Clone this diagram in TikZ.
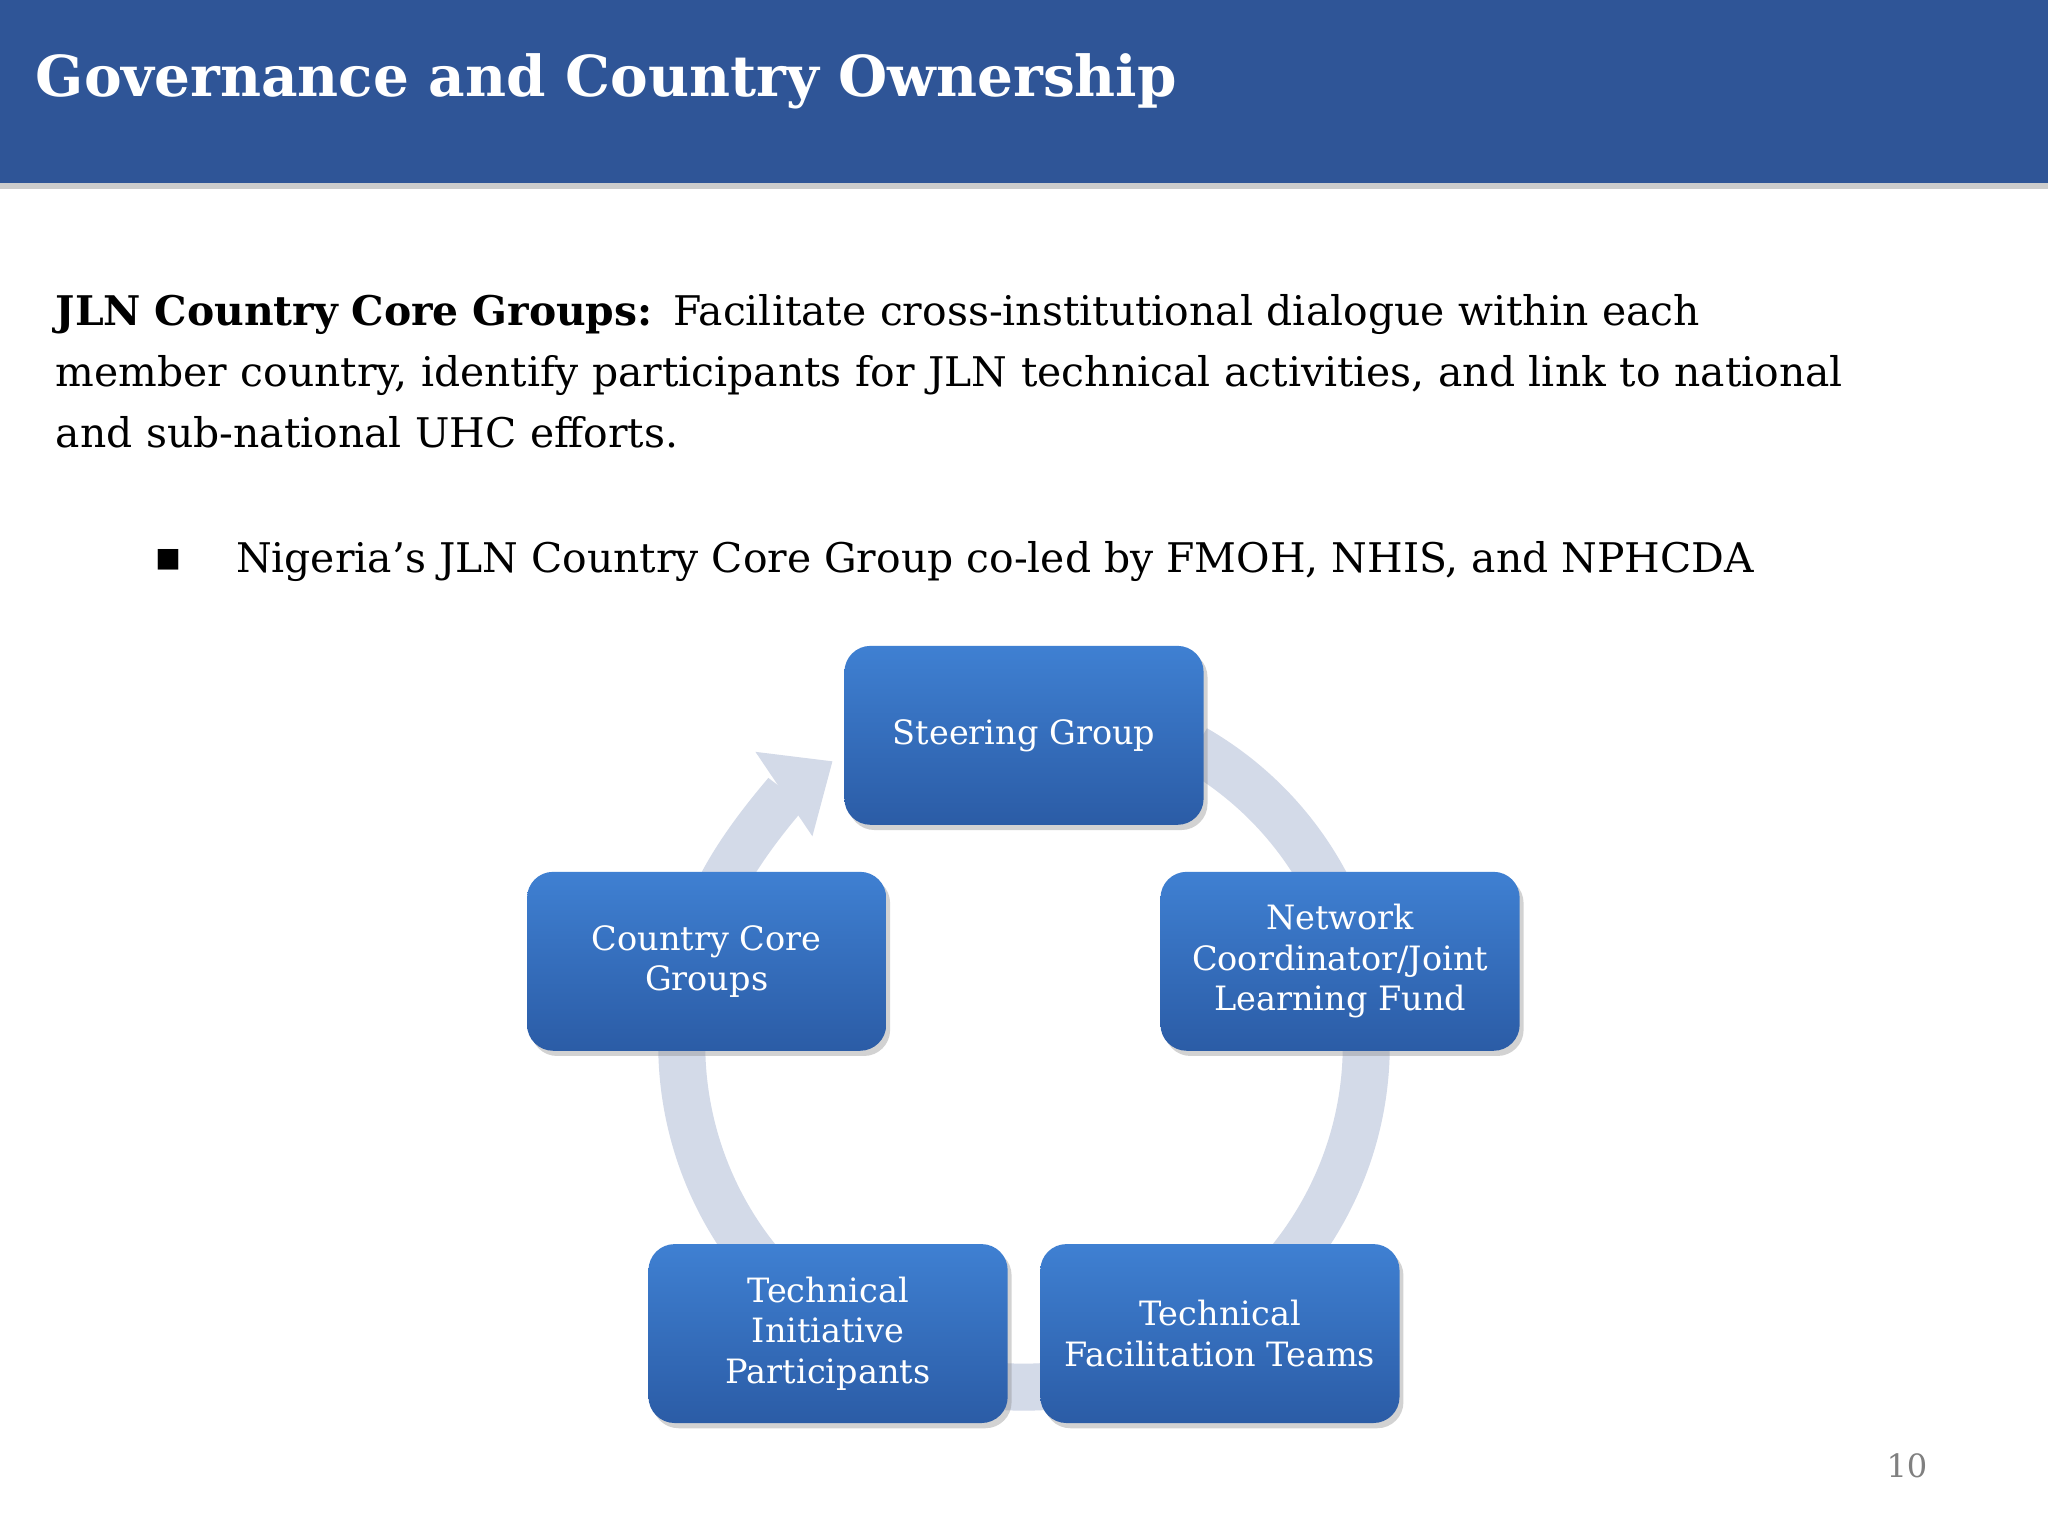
\documentclass[tikz,border=0pt]{standalone}
\usepackage{fontspec}
\setmainfont{DejaVu Serif}
\usetikzlibrary{arrows.meta,shadows}
\definecolor{hdr}{HTML}{2F5597}
\definecolor{boxtop}{HTML}{3F80D2}
\definecolor{boxbot}{HTML}{2B5CA6}
\definecolor{ring}{HTML}{D3DAE8}
\tikzset{
  cbox/.style={draw=none,rounded corners=0.2cm,minimum width=2.75cm,minimum height=1.37cm,
    top color=boxtop,bottom color=boxbot,text=white,align=center,font=\fontsize{7.3}{8.8}\selectfont,
    drop shadow={opacity=0.35,shadow xshift=0.03cm,shadow yshift=-0.04cm}},
}
\begin{document}
\begin{tikzpicture}
\useasboundingbox (0,0) rectangle (15.68,-11.76);
\fill[white] (0,0) rectangle (15.68,-11.76);
\fill[gray!40] (0,-1.40) rectangle (15.68,-1.45);
\fill[hdr] (0,0) rectangle (15.68,-1.40);
\node[anchor=west,text=white,font=\fontsize{12.3}{15}\bfseries\selectfont] (title) at (0.15,-0.62) {Governance and Country Ownership};
\node[anchor=north west,align=left,text width=14.8cm,font=\fontsize{8.9}{13.3}\selectfont,inner sep=0] (para) at (0.42,-2.25)
 {\hyphenpenalty=10000 \textbf{JLN Country Core Groups:} Facilitate cross-institutional dialogue within each\\ member country, identify participants for JLN technical activities, and link to national\\ and sub-national UHC efforts.};
\node[font=\fontsize{9}{10}\selectfont] (bul) at (1.29,-4.29) {\textbf{▪}};
\node[anchor=west,font=\fontsize{8.9}{12}\selectfont,inner sep=0] (nig) at (1.80,-4.30) {Nigeria’s JLN Country Core Group co-led by FMOH, NHIS, and NPHCDA};
\coordinate (c) at (7.84,-8.0);
\draw[ring,line width=0.36cm,-{Triangle[width=0.75cm,length=0.45cm]}] ([shift={(60:2.62)}]c) arc[start angle=60,end angle=-236,radius=2.62];
\node[cbox] (sg) at (7.84,-5.63) {Steering Group};
\node[cbox] (nc) at (10.26,-7.36) {Network\\Coordinator/Joint\\Learning Fund};
\node[cbox] (tf) at (9.34,-10.21) {Technical\\Facilitation Teams};
\node[cbox] (ti) at (6.34,-10.21) {Technical\\Initiative\\Participants};
\node[cbox] (cc) at (5.41,-7.36) {Country Core\\Groups};
\node[text=gray,font=\fontsize{7}{8}\selectfont] (pg) at (14.60,-11.22) {10};
\end{tikzpicture}
\end{document}
